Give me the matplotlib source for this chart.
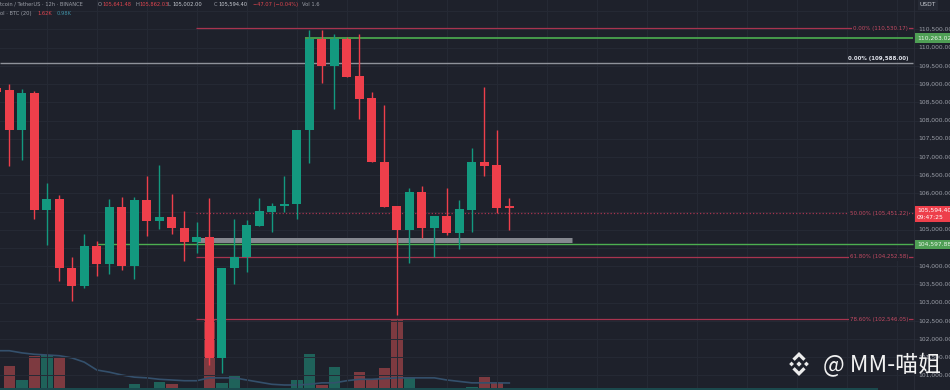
import matplotlib
matplotlib.use('Agg')
import matplotlib.pyplot as plt
from matplotlib.patches import Rectangle, Polygon
from matplotlib.transforms import blended_transform_factory as blend

# ---------------- data ----------------
opens  = [108893, 108838, 107740, 108764, 105543, 105845, 103950, 103455, 104554, 104060,
          105625, 104005, 105817, 105241, 105350, 105048, 104664, 104801, 101478, 103950,
          104252, 105103, 105488, 105652, 105707, 107740, 110239, 109498, 110239, 109223,
          108619, 106861, 105652, 104993, 106037, 105048, 105378, 104911, 105543, 106861,
          106779, 105641.48]
highs  = [108950, 109003, 108866, 108800, 106284, 105955, 104252, 104883, 104691, 105845,
          105900, 105900, 106476, 106779, 105982, 105515, 105213, 105872, 103950, 105295,
          105268, 105872, 105735, 106476, 107740, 110486, 110486, 110376, 110294, 110376,
          108783, 108426, 105652, 106147, 106202, 105378, 106147, 105817, 107245, 108921,
          107740, 105862.03]
lows   = [108700, 106751, 106916, 105295, 104581, 103593, 103043, 103400, 103730, 103785,
          103895, 103648, 104829, 105021, 104883, 104142, 104362, 101286, 101066, 103510,
          103840, 105103, 104938, 105488, 105295, 106833, 109031, 108317, 109195, 108042,
          106861, 105625, 102659, 104087, 104774, 104252, 104856, 104471, 104938, 106476,
          105460, 105002.00]
closes = [108783, 107740, 108764, 105543, 105845, 103950, 103455, 104554, 104060, 105625,
          104005, 105817, 105241, 105350, 105048, 104664, 104801, 101478, 103950, 104252,
          105131, 105515, 105652, 105707, 107740, 110239, 109498, 110239, 109195, 108591,
          106861, 105625, 104993, 106037, 105048, 105378, 104911, 105570, 106861, 106751,
          105597, 105594.40]
volume_k = [0.30, 3.36, 1.40, 4.76, 4.90, 4.48, 0.14, 0.07, 0.07, 0.07,
            0.28, 0.84, 0.14, 1.12, 0.84, 0.28, 0.14, 9.94, 0.98, 1.96,
            0.14, 0.14, 0.14, 0.14, 1.40, 5.04, 0.70, 3.22, 0.14, 2.52,
            1.54, 3.08, 9.80, 1.68, 0.14, 0.14, 0.14, 0.14, 0.42, 1.82,
            0.98, 0.14]
volume_ma_k = [5.5, 5.5, 5.2, 5.0, 4.9, 4.8, 4.5, 3.9, 2.8, 2.5,
               2.1, 1.8, 1.7, 1.5, 1.4, 1.3, 1.3, 1.7, 1.7, 1.7,
               1.4, 1.1, 0.8, 0.7, 0.7, 0.8, 1.0, 1.0, 1.3, 1.5,
               1.5, 1.6, 1.7, 1.7, 1.7, 1.7, 1.4, 1.2, 1.0, 1.0,
               1.0, 0.98]
fib_names  = ["0.00%", "50.00%", "61.80%", "78.60%"]
fib_prices = [110530.17, 105451.22, 104252.58, 102546.05]
fib_styles = ['-', ':', '-', '-']
prev_high_name, prev_high_price = "0.00%", 109588.00
green_top_price = 110263.02
green_bottom_price = 104597.88
grey_zone_price = 104732
last_price = 105594.40
countdown = "09:47:25"
axis_prices = [p for p in range(101000, 111000, 500) if p not in (105500, 104500)]

header_parts = [("tcoin / TetherUS · 12h · BINANCE", 0, 'g'), ("O", 98, 'g'), ("105,641.48", 102, 'r'),
                ("H", 135, 'g'), ("105,862.03", 139, 'r'), ("L", 168, 'g'), ("105,002.00", 172, 'w'),
                ("C", 214, 'g'), ("105,594.40", 218, 'w'), ("−47.07 (−0.04%)", 253, 'r'),
                ("Vol 1.6", 302, 'g')]
header2_parts = [("ol · BTC (20)", 0, 'g'), ("1.62K", 37, 'r'), ("0.98K", 57, 'b')]

# ---------------- style ----------------
BG = '#1e212b'
UP, DN = '#13997f', '#ee3f4b'
UPV, DNV = '#1f625a', '#7d3a40'
GRID = '#262a35'
FIBC, FIBT = '#a8344f', '#c44a63'
AXT = '#9a9da6'
GREEN = '#4caf50'
TXT = {'g': '#9a9da6', 'r': '#e0454f', 'w': '#c8cbd2', 'b': '#3f8fa3'}

W, H = 950, 390
fig = plt.figure(figsize=(9.5, 3.9), dpi=100, facecolor=BG)

PX0, PXS = -3.2, 12.5           # candle index -> pixel
def i2x(px): return (px - PX0) / PXS
XL = (i2x(0), i2x(W))
YL = (100599, 111310)

vax = fig.add_axes([0, 0, 1, 1], zorder=0)
vax.set_facecolor(BG)
vax.set_xlim(*XL)
vax.set_ylim(0, 54.6)
vax.axis('off')

ax = fig.add_axes([0, 0, 1, 1], zorder=1)
ax.set_facecolor('none')
ax.set_xlim(*XL)
ax.set_ylim(*YL)
ax.axis('off')

oax = fig.add_axes([0, 0, 1, 1], zorder=2)
oax.set_facecolor('none')
oax.set_xlim(0, W)
oax.set_ylim(H, 0)
oax.axis('off')

idx = list(range(len(opens)))
xend = i2x(913)

# grid
for p in range(101000, 111500, 500):
    ax.axhline(p, color=GRID, lw=0.7, zorder=0)
for k in range(0, 76, 4):
    ax.axvline(k, color=GRID, lw=0.7, zorder=0)

# volume
vcol = [UPV if c >= o else DNV for o, c in zip(opens, closes)]
vax.bar(idx, volume_k, width=0.92, color=vcol, zorder=1)
vax.plot(idx, volume_ma_k, color='#34506c', lw=1.2, zorder=2)

# horizontal levels
ax.hlines(prev_high_price, XL[0], xend, color='#8f929a', lw=1.0, zorder=2)
ax.hlines(green_top_price, i2x(305), xend, color=GREEN, lw=1.2, zorder=2)
ax.hlines(green_bottom_price, i2x(97), xend, color=GREEN, lw=1.0, zorder=2)
ax.hlines(grey_zone_price, i2x(197), i2x(572), color='#85888f', lw=3.6, zorder=2)
for n, p, s in zip(fib_names, fib_prices, fib_styles):
    ax.hlines(p, i2x(196), xend, color=FIBC, lw=0.9, linestyle=s, zorder=2)
    ax.text(i2x(908), p, f"{n} ({p:,.2f})", ha='right', va='center', fontsize=4.0,
            color=FIBT, zorder=4,
            bbox=dict(facecolor=BG, edgecolor='none', pad=0.8))
ax.text(i2x(908), prev_high_price + 45, f"{prev_high_name} ({prev_high_price:,.2f})",
        ha='right', va='bottom', fontsize=4.0, color='#e0e3eb', fontweight='bold', zorder=4)

# candles
for i, o, h, l, c in zip(idx, opens, highs, lows, closes):
    col = UP if c >= o else DN
    ax.vlines(i, l, h, color=col, lw=1.0, zorder=3)
    b = min(o, c)
    hgt = max(abs(c - o), 35)
    ax.bar(i, hgt, bottom=b, width=0.72, color=col, zorder=3.5)

# right price axis
bt = blend(oax.transData, ax.transData)
for p in axis_prices:
    oax.text(918, p, f"{p:,.2f}", transform=bt, fontsize=4.3, color=AXT,
             ha='left', va='center', zorder=3)
oax.axvline(913.5, color='#2a2e39', lw=0.6)
oax.text(917, 110263.02, f"{green_top_price:,.2f}", transform=bt, fontsize=4.3,
         color='#eaf5ea', ha='left', va='center', zorder=5,
         bbox=dict(facecolor='#4f9f55', edgecolor='none', pad=1.6))
oax.text(917, green_bottom_price, f"{green_bottom_price:,.2f}", transform=bt, fontsize=4.3,
         color='#eaf5ea', ha='left', va='center', zorder=5,
         bbox=dict(facecolor='#4f9f55', edgecolor='none', pad=1.6))
oax.text(917, last_price, f"{last_price:,.2f}\n{countdown}", transform=bt, fontsize=4.3,
         color='#ffffff', ha='left', va='top', zorder=5, linespacing=1.5,
         bbox=dict(facecolor='#ee3f4b', edgecolor='none', pad=1.6))
oax.text(920, 5, "USDT", fontsize=4.3, color='#c8cbd2', ha='left', va='center',
         bbox=dict(facecolor='#262a35', edgecolor='none', pad=1.5))

# header
for t, x, c in header_parts:
    oax.text(x, 4.5, t, fontsize=3.7, color=TXT[c], ha='left', va='center')
for t, x, c in header2_parts:
    oax.text(x, 13.5, t, fontsize=3.7, color=TXT[c], ha='left', va='center')

# bottom strip
oax.add_patch(Rectangle((0, 387.5), 878, 3, color='#1b494d', lw=0))

# watermark with logo
cx, cy, s = 799, 364, 12
def P(pts):
    return Polygon([(cx + s * a, cy - s * b) for a, b in pts], closed=True,
                   color='#ececec', lw=0)
def diamond(dx, dy, r):
    return [(dx, dy + r), (dx + r, dy), (dx, dy - r), (dx - r, dy)]
oax.add_patch(P(diamond(0, 0, 0.22)))
oax.add_patch(P(diamond(-0.62, 0, 0.2)))
oax.add_patch(P(diamond(0.62, 0, 0.2)))
oax.add_patch(P([(0, 1), (0.55, 0.45), (0.36, 0.26), (0, 0.62), (-0.36, 0.26), (-0.55, 0.45)]))
oax.add_patch(P([(0, -1), (0.55, -0.45), (0.36, -0.26), (0, -0.62), (-0.36, -0.26), (-0.55, -0.45)]))
oax.text(823, 365, "@ MM-喵姐", fontsize=16.5, color='#f2f2f2', ha='left', va='center',
         family=['Noto Sans CJK SC', 'DejaVu Sans'], zorder=6)

fig.savefig('out.png', dpi=100, facecolor=BG)
